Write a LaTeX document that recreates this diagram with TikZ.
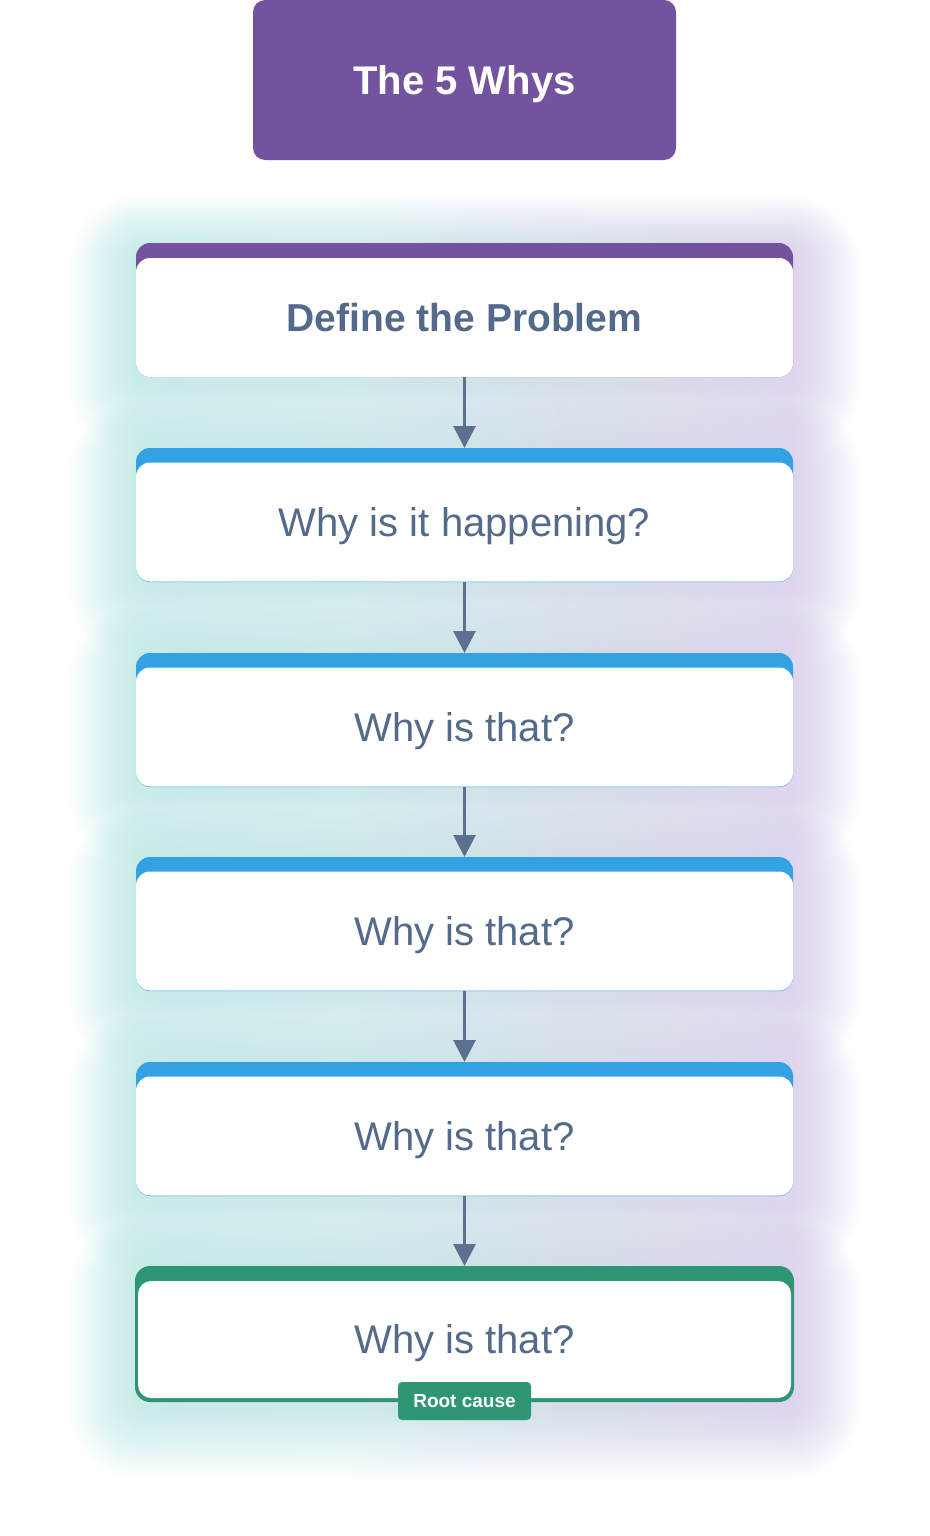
\documentclass[tikz,border=0pt]{standalone}
\usepackage{fontspec}
\setmainfont{Liberation Sans}
\usetikzlibrary{arrows.meta}
\definecolor{titlepurple}{RGB}{116,83,158}
\definecolor{barblue}{RGB}{50,162,226}
\definecolor{rootgreen}{RGB}{47,150,117}
\definecolor{txtslate}{RGB}{84,106,138}
\definecolor{arrslate}{RGB}{92,113,144}
\definecolor{glowmint}{RGB}{150,242,220}
\definecolor{glowblue}{RGB}{165,225,252}
\definecolor{glowlav}{RGB}{200,175,240}
\tikzset{
  whybox/.style={fill=white, rounded corners=14pt, minimum width=657pt, minimum height=119pt,
     inner sep=0pt, text height=28.6pt, text depth=0pt, text=txtslate, font=\fontsize{40}{48}\selectfont},
  titlebox/.style={fill=titlepurple, rounded corners=12pt, minimum width=423pt, minimum height=160pt,
     inner sep=0pt, text height=28.6pt, text depth=0pt, text=white, font=\fontsize{40}{48}\selectfont\bfseries},
  tagbox/.style={fill=rootgreen, rounded corners=4pt, minimum width=133pt, minimum height=38pt,
     inner sep=0pt, text height=13.6pt, text depth=0pt, text=white, font=\fontsize{19}{23}\selectfont\bfseries},
  flowarrow/.style={draw=arrslate, line width=3pt, -{Triangle[width=22pt,length=22pt]}},
}
\begin{document}
\begin{tikzpicture}[x=1pt,y=-1pt]
\useasboundingbox (0,0) rectangle (929,1536);
\fill[white] (0,0) rectangle (929,1536);
% glow around each box
\foreach \t in {243,448,653,857,1062,1266}{
  \foreach \k in {1,...,22}{
    \shade[left color=glowmint, middle color=glowblue, right color=glowlav, fill opacity=0.026]
      [rounded corners={14pt+\k*2.5pt}]
      (136-\k*3, \t-\k*2.4+6) rectangle (793+\k*3, \t+136+\k*3.2+6);
  }
}
% title
\node[titlebox] (title) at (464.5,80) {The 5 Whys};
% box bars
\foreach \t/\c in {243/titlepurple,448/barblue,653/barblue,857/barblue,1062/barblue}{
  \fill[\c, rounded corners=14pt] (136,\t) rectangle (793,\t+134);
}
\fill[rootgreen, rounded corners=15pt] (135,1266) rectangle (794,1402);
% boxes
\node[whybox, font=\fontsize{39}{47}\selectfont\bfseries, text height=27.9pt] (b1) at (464.5,317.5) {Define the Problem};
\node[whybox] (b2) at (464.5,522) {Why is it happening?};
\node[whybox] (b3) at (464.5,727) {Why is that?};
\node[whybox] (b4) at (464.5,931) {Why is that?};
\node[whybox] (b5) at (464.5,1136) {Why is that?};
\node[whybox, minimum width=653pt, minimum height=117pt, rounded corners=13pt] (b6) at (464.5,1339.5) {Why is that?};
% bar top coordinates
\coordinate (t2) at (464.5,448);
\coordinate (t3) at (464.5,653);
\coordinate (t4) at (464.5,857);
\coordinate (t5) at (464.5,1062);
\coordinate (t6) at (464.5,1266);
\draw[flowarrow] (b1.south) -- (t2);
\draw[flowarrow] (b2.south) -- (t3);
\draw[flowarrow] (b3.south) -- (t4);
\draw[flowarrow] (b4.south) -- (t5);
\draw[flowarrow] (b5.south) -- (t6);
% tag
\node[tagbox] (tag) at (464.5,1401) {Root cause};
\end{tikzpicture}
\end{document}
